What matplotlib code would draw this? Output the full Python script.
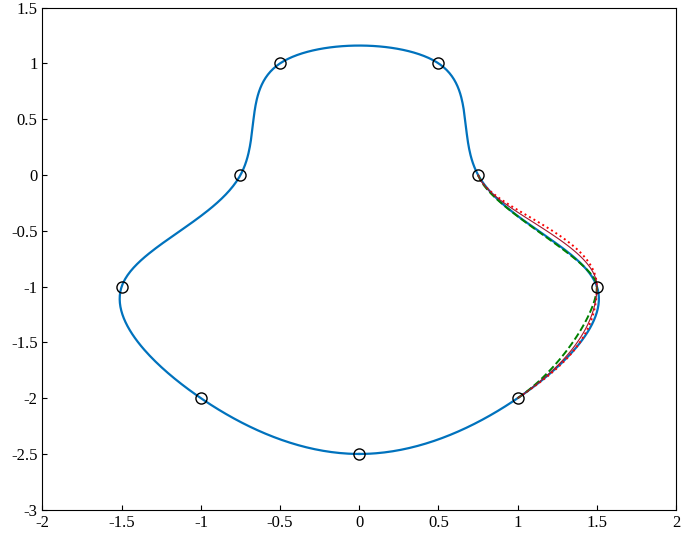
import numpy as np
import matplotlib.pyplot as plt

plt.rcParams['font.family'] = ['Liberation Serif', 'DejaVu Serif']

# control points (closed curve)
px = [0, 1, 1.5, 0.75, 0.5, -0.5, -0.75, -1.5, -1]
py = [-2.5, -2, -1, 0, 1, 1, 0, -1, -2]


def periodic_spline(x, y, n=60):
    P = np.column_stack([x, y])
    m = len(P)
    h = np.linalg.norm(np.roll(P, -1, axis=0) - P, axis=1)  # chord length
    A = np.zeros((m, m))
    R = np.zeros((m, 2))
    for i in range(m):
        hp = h[i - 1]
        hi = h[i]
        A[i, i - 1] += hp
        A[i, i] += 2 * (hp + hi)
        A[i, (i + 1) % m] += hi
        R[i] = 6 * ((P[(i + 1) % m] - P[i]) / hi - (P[i] - P[i - 1]) / hp)
    M = np.linalg.solve(A, R)
    pts = []
    derivs = []
    for i in range(m):
        j = (i + 1) % m
        hi = h[i]
        t = np.linspace(0, hi, n)[:, None]
        a = hi - t
        s = (M[i] * a ** 3 + M[j] * t ** 3) / (6 * hi) \
            + (P[i] / hi - M[i] * hi / 6) * a + (P[j] / hi - M[j] * hi / 6) * t
        pts.append(s)
        dv = (P[j] - P[i]) / hi - (2 * M[i] + M[j]) * hi / 6
        derivs.append(dv * hi)
    pts.append(P[:1])
    return np.vstack(pts), P, np.array(derivs)


def hermite(p0, p1, m0, m1, n=60):
    t = np.linspace(0, 1, n)[:, None]
    return ((2 * t**3 - 3 * t**2 + 1) * p0 + (t**3 - 2 * t**2 + t) * m0
            + (-2 * t**3 + 3 * t**2) * p1 + (t**3 - t**2) * m1)


curve, P, D = periodic_spline(px, py)

fig = plt.figure(figsize=(6.85, 5.4), dpi=100)
ax = fig.add_axes([0.062, 0.056, 0.925, 0.93])
ax.plot(curve[:, 0], curve[:, 1], color='#0072BD', lw=1.6)

# local variants between (0.75,0) -> (1.5,-1) -> (1,-2)
A, B, C = P[3], P[2], P[1]
tB = np.array([0.0, -1.0])
for scale, style, col, lw in [(1.4, ':', 'red', 1.4), (0.7, '--', 'green', 1.4), (1.15, '-', '#A2142F', 0.8)]:
    seg1 = hermite(A, B, -D[2] * 0.9, tB * scale)
    seg2 = hermite(B, C, tB * scale, -D[1] * 0.9)
    s = np.vstack([seg1, seg2])
    ax.plot(s[:, 0], s[:, 1], linestyle=style, color=col, lw=lw)

ax.plot(px, py, 'o', mfc='none', mec='black', ms=8)
ax.set_xlim(-2, 2)
ax.set_ylim(-3, 1.5)
ax.set_xticks(np.arange(-2, 2.01, 0.5))
ax.set_yticks(np.arange(-3, 1.51, 0.5))
ax.set_xticklabels(['-2', '-1.5', '-1', '-0.5', '0', '0.5', '1', '1.5', '2'])
ax.set_yticklabels(['-3', '-2.5', '-2', '-1.5', '-1', '-0.5', '0', '0.5', '1', '1.5'])
ax.tick_params(labelsize=12, direction='in')
fig.savefig('out.png')
